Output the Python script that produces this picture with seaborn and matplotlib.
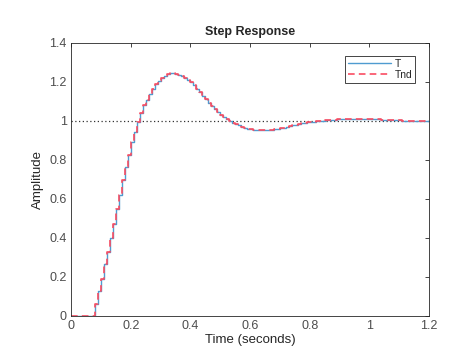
import numpy as np
import pandas as pd
import matplotlib
matplotlib.use("Agg")
import matplotlib.pyplot as plt
import seaborn as sns

# sample time 0.01 s, values held (zero-order hold) from each sample time
t = np.round(np.arange(0, 121) * 0.01, 2)
amp = [
    0, 0, 0, 0, 0, 0, 0, 0,
    0.06, 0.13, 0.19, 0.265, 0.33, 0.40, 0.47, 0.55, 0.62, 0.695,
    0.765, 0.825, 0.89, 0.945, 0.995, 1.04, 1.08, 1.11, 1.14, 1.165,
    1.19, 1.207, 1.222, 1.233, 1.240, 1.244, 1.245, 1.243, 1.238, 1.231,
    1.222, 1.211, 1.198, 1.183, 1.166, 1.148, 1.130, 1.112, 1.094, 1.076,
    1.062, 1.047, 1.033, 1.021, 1.010, 1.001, 0.992, 0.984, 0.977, 0.971,
    0.966, 0.961, 0.958, 0.955, 0.953, 0.952, 0.952, 0.952, 0.953, 0.955,
    0.957, 0.959, 0.962, 0.966, 0.969, 0.973, 0.977, 0.981, 0.984, 0.987,
    0.990, 0.993, 0.995, 0.997, 0.999, 1.000, 1.002, 1.003, 1.005, 1.006,
    1.007, 1.008, 1.009, 1.010, 1.010, 1.011, 1.011, 1.011, 1.011, 1.011,
    1.011, 1.010, 1.010, 1.009, 1.009, 1.008, 1.007, 1.007, 1.006, 1.005,
    1.004, 1.004, 1.003, 1.002, 1.002, 1.001, 1.001, 1.000, 1.000, 1.000,
    0.999, 0.999, 0.999,
]
steady = 1.0

df = pd.DataFrame({"time": t, "T": amp, "Tnd": amp})

sns.set_style("white")
plt.rcParams["font.family"] = ["Liberation Sans", "DejaVu Sans"]

fig = plt.figure(figsize=(4.74, 3.55), dpi=100)
ax = fig.add_axes([0.15, 0.110, 0.755, 0.769])

sns.lineplot(data=df, x="time", y="T", ax=ax, color="#4f9bd0", lw=1.0,
             drawstyle="steps-post", label="T")
sns.lineplot(data=df, x="time", y="Tnd", ax=ax, color="#fa4d62", lw=1.2,
             drawstyle="steps-post", label="Tnd", dashes=False)
ax.lines[-1].set_linestyle((0, (4, 2.5)))
ax.axhline(steady, color="#333333", lw=0.9, ls=(0, (1, 2)), zorder=0)

ax.set_xlim(0, 1.2)
ax.set_ylim(0, 1.4)
ax.set_xticks([0, 0.2, 0.4, 0.6, 0.8, 1, 1.2])
ax.set_xticklabels(["0", "0.2", "0.4", "0.6", "0.8", "1", "1.2"])
ax.set_yticks([0, 0.2, 0.4, 0.6, 0.8, 1, 1.2, 1.4])
ax.set_yticklabels(["0", "0.2", "0.4", "0.6", "0.8", "1", "1.2", "1.4"])

for side in ax.spines.values():
    side.set_color("#262626")
    side.set_linewidth(0.6)
ax.tick_params(direction="in", length=3, width=0.6, colors="#262626",
               labelsize=9, top=True, right=True, labelcolor="#4d4d4d", pad=3)

ax.set_xlabel("Time (seconds)", fontsize=9.5, color="#262626", labelpad=1)
ax.set_ylabel("Amplitude", fontsize=9.5, color="#262626", labelpad=4)
ax.set_title("Step Response", fontsize=9, fontweight="bold", pad=6)

leg = ax.legend(loc="upper right", bbox_to_anchor=(0.975, 0.97), fontsize=7.5,
                handlelength=4.2, handletextpad=0.3, borderpad=0.25,
                labelspacing=0.1, fancybox=False, framealpha=1)
leg.get_frame().set_edgecolor("#262626")
leg.get_frame().set_linewidth(0.6)

fig.savefig("out.png", dpi=100)
